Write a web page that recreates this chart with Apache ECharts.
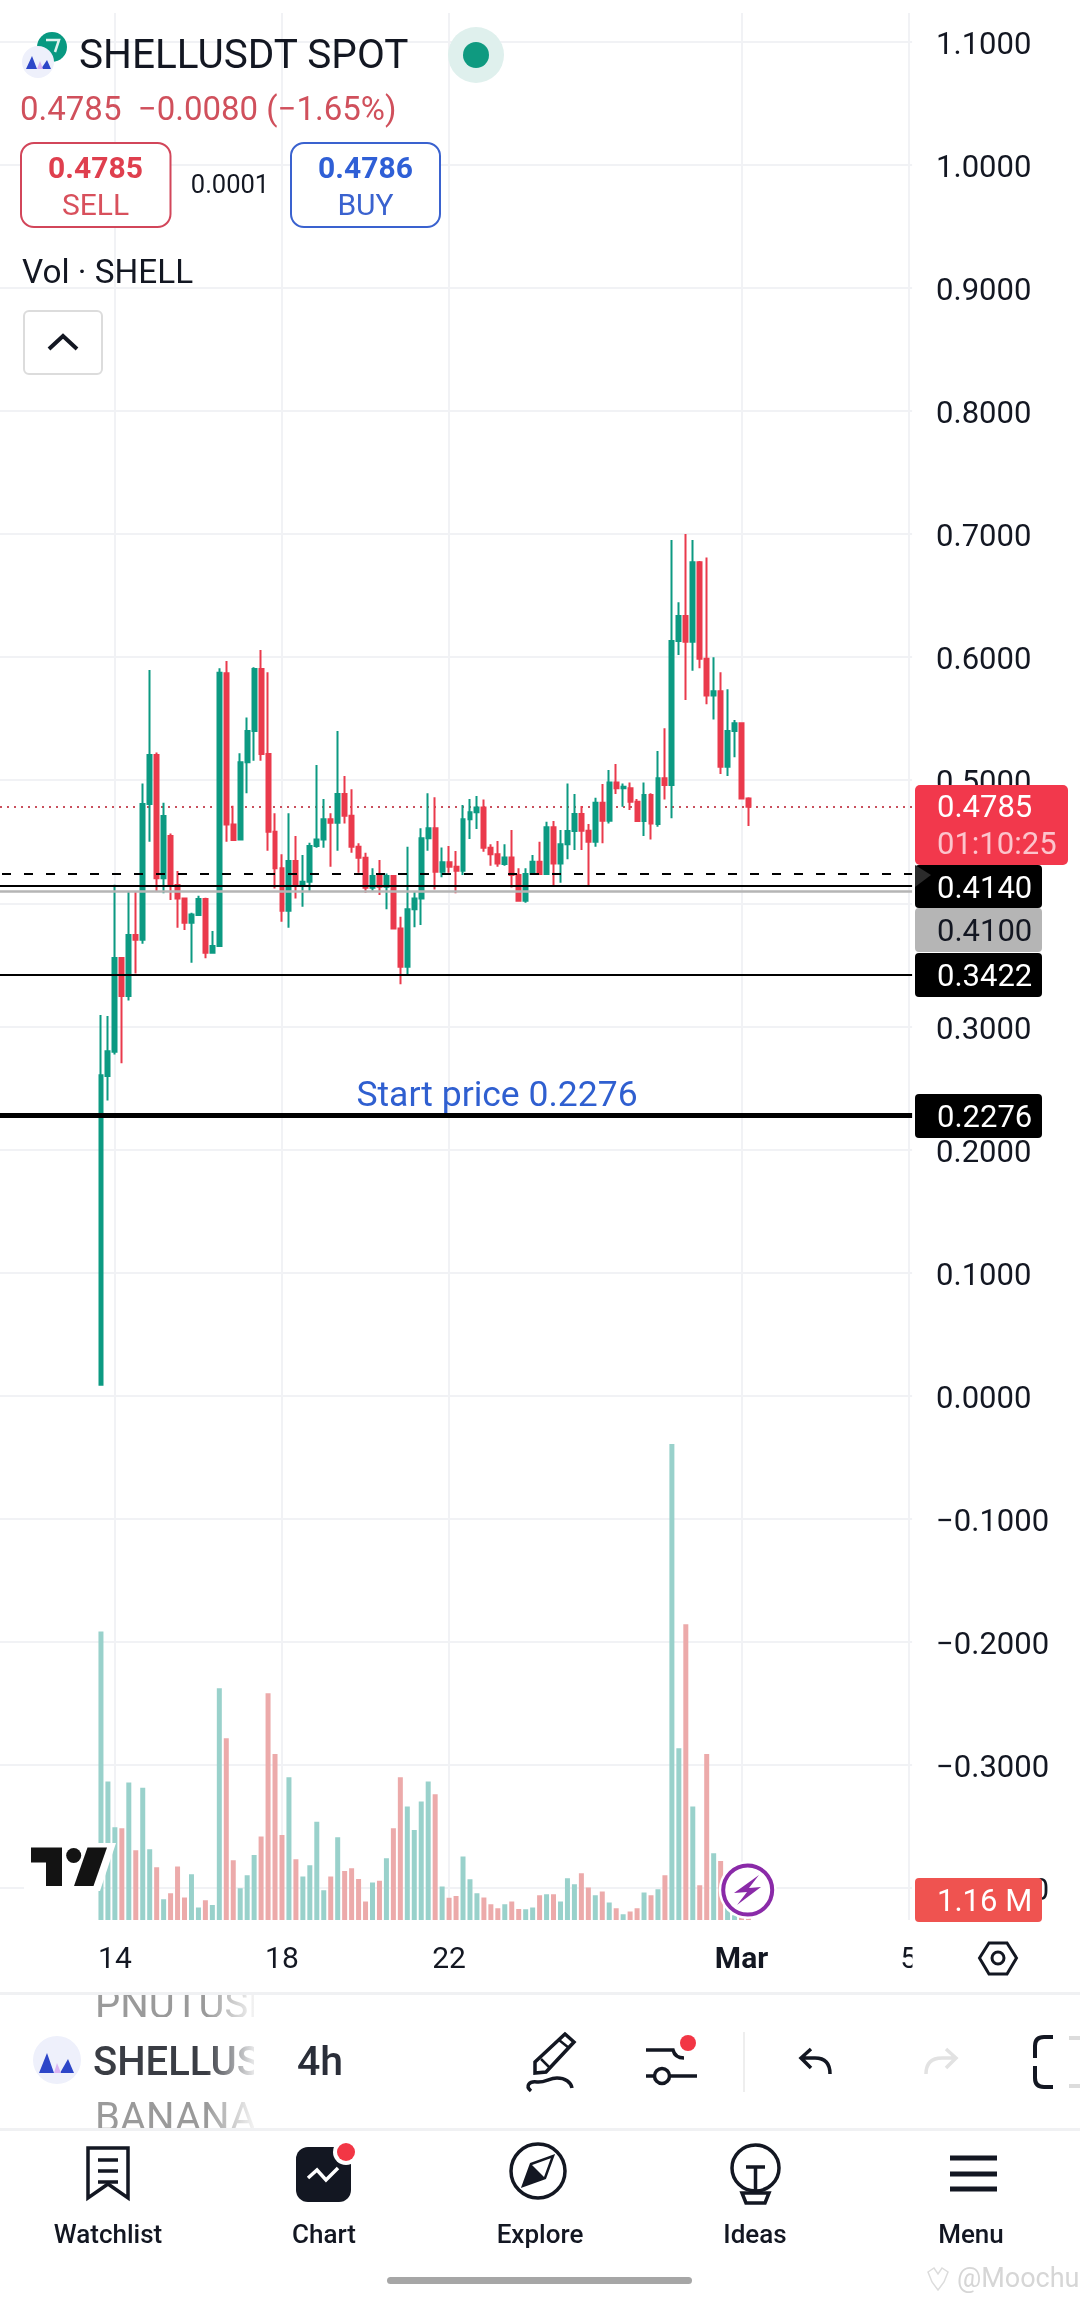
<!DOCTYPE html>
<html><head><meta charset="utf-8">
<script src="https://cdn.jsdelivr.net/npm/echarts@6/dist/echarts.min.js"></script>
<style>
html,body{margin:0;padding:0;background:#fff;width:1080px;height:2301px;overflow:hidden}
#chart{position:absolute;left:0;top:0;width:1080px;height:2301px}
#ui{position:absolute;left:0;top:0;width:1080px;height:2301px;pointer-events:none;font-family:Roboto,sans-serif}
</style></head><body>
<div id="chart"></div>
<svg id="ui" width="1080" height="2301" viewBox="0 0 1080 2301" xmlns="http://www.w3.org/2000/svg" dominant-baseline="central">
<defs>
<linearGradient id="fadeDark" x1="93" x2="255" gradientUnits="userSpaceOnUse"><stop offset="0.7" stop-color="#3a3d44"/><stop offset="1" stop-color="#3a3d44" stop-opacity="0.1"/></linearGradient>
<linearGradient id="fadeGrey" x1="93" x2="255" gradientUnits="userSpaceOnUse"><stop offset="0.7" stop-color="#9a9a9a"/><stop offset="1" stop-color="#9a9a9a" stop-opacity="0.1"/></linearGradient>
<clipPath id="c1"><rect x="0" y="1995" width="254" height="22"/></clipPath>
<clipPath id="c2"><rect x="0" y="2030" width="254" height="60"/></clipPath>
<clipPath id="c3"><rect x="0" y="2098" width="254" height="30"/></clipPath>
</defs>

<!-- header -->
<circle cx="52" cy="47" r="15" fill="#089981"/><path d="M46,40h13l-4,12" fill="none" stroke="#dff3ef" stroke-width="2.5"/>
<circle cx="38" cy="62" r="16" fill="#eef0fb"/><path d="M26,69l6,-13l5,13zM41,69l6,-9l4,9z" fill="#2d46c8"/><path d="M37,69l3,-8l3,8z" fill="#d9b4f2"/>
<text x="79" y="54" font-size="40.500" fill="#131722">SHELLUSDT SPOT</text>
<circle cx="476" cy="55" r="28" fill="#dff0ed"/><circle cx="476" cy="55" r="13" fill="#0f9a80"/>
<text x="20" y="108" font-size="33" fill="#d0505c" xml:space="preserve">0.4785  −0.0080 (−1.65%)</text>
<rect x="21" y="143" width="149.500" height="84" rx="13" fill="#fff" stroke="#d2465a" stroke-width="2"/>
<text x="95.500" y="167" text-anchor="middle" font-size="30" font-weight="700" fill="#df3f4e">0.4785</text>
<text x="95.500" y="204" text-anchor="middle" font-size="30" fill="#d8505c">SELL</text>
<text x="230" y="184" text-anchor="middle" font-size="25.500" fill="#131722">0.0001</text>
<rect x="291" y="143" width="149" height="84" rx="13" fill="#fff" stroke="#3a62cf" stroke-width="2"/>
<text x="365.500" y="167" text-anchor="middle" font-size="30" font-weight="700" fill="#2f5fd6">0.4786</text>
<text x="365.500" y="204" text-anchor="middle" font-size="30" fill="#3a62cf">BUY</text>
<text x="22" y="271" font-size="33.300" fill="#131722">Vol · SHELL</text>
<rect x="24" y="311" width="78" height="63" rx="5" fill="#fff" stroke="#dcdcdc" stroke-width="2"/>
<polyline points="49,349 63,336 77,349" fill="none" stroke="#131722" stroke-width="4"/>

<!-- chart labels -->
<text x="497" y="1094" text-anchor="middle" font-size="35.500" fill="#2f5fd0">Start price 0.2276</text>
<rect x="915" y="785" width="153" height="80" rx="5" fill="#f2384c"/>
<text x="937" y="806" font-size="31" fill="#fff">0.4785</text>
<text x="937" y="843" font-size="31" fill="#fcc4cc">01:10:25</text>
<rect x="915" y="865" width="127" height="43" rx="4" fill="#000"/>
<polygon points="915,865 931,875 915,887" fill="#2b2b2b"/>
<text x="937" y="887" font-size="31" fill="#fff">0.4140</text>
<rect x="915" y="908" width="127" height="44" rx="4" fill="#b5b5b5"/>
<text x="937" y="930" font-size="31" fill="#131722">0.4100</text>
<rect x="915" y="953" width="127" height="44" rx="4" fill="#000"/>
<text x="937" y="975" font-size="31" fill="#fff">0.3422</text>
<rect x="915" y="1094" width="127" height="44" rx="4" fill="#000"/>
<text x="937" y="1116" font-size="31" fill="#fff">0.2276</text>
<rect x="915" y="1878" width="127" height="44" rx="4" fill="#ef5350"/>
<text x="937" y="1900" font-size="31" fill="#fff">1.16 M</text>
<rect x="912.500" y="1935" width="14" height="45" fill="#fff"/>
<polygon points="979.500,1958 989,1943 1007,1943 1016.500,1958 1007,1974 989,1974" fill="none" stroke="#131722" stroke-width="3"/>
<circle cx="998" cy="1958" r="6" fill="none" stroke="#131722" stroke-width="3"/>

<!-- logo -->
<polygon points="24,1843 116,1843 100,1891 24,1891" fill="#fff"/>
<path d="M31,1847.500H62V1886H46V1862.500H31Z" fill="#131313"/><circle cx="73.700" cy="1855.500" r="7.500" fill="#131313"/><polygon points="87.500,1847.500 107,1847.500 93.500,1886 74,1886" fill="#131313"/>
<circle cx="747.700" cy="1890" r="29" fill="#fff"/><circle cx="747.700" cy="1890" r="24.500" fill="#fff" stroke="#8a2aa8" stroke-width="4"/>
<polygon points="759,1875 734,1893 747,1892 737,1905 761,1887 749,1888" fill="#8a2aa8"/>

<!-- toolbar -->
<rect x="0" y="1992" width="1080" height="3" fill="#f0f1f3"/>
<text x="95" y="2004" font-size="40" fill="url(#fadeGrey)" clip-path="url(#c1)">PNUTUSDT</text>
<circle cx="57" cy="2060" r="24" fill="#eef0fb"/><path d="M39,2073l8,-20l7,20zM60,2073l8,-14l6,14z" fill="#2d46c8"/><path d="M54,2073l3,-10l4,10z" fill="#d9b4f2"/>
<text x="93" y="2061" font-size="40" font-weight="500" fill="url(#fadeDark)" clip-path="url(#c2)">SHELLUSDT</text>
<text x="297" y="2061" font-size="41" font-weight="500" fill="#2a2e39">4h</text>
<text x="95" y="2117" font-size="40" fill="url(#fadeGrey)" clip-path="url(#c3)">BANANAS31</text>
<rect x="0" y="2128" width="1080" height="3" fill="#f0f1f3"/>
<g fill="none" stroke="#131722" stroke-width="3.500">
<polygon points="535,2073 535,2062 565,2034 574,2042 546,2072"/><path d="M541,2059l9,9M559,2040l10,8" stroke-width="2.500"/>
<path d="M531,2091c-6,-5 -2,-10 6,-9c8,1 12,-4 20,-4c8,0 14,4 15,10"/>
<path d="M646,2050H673q2,8 11,8"/><path d="M646,2076H655M669,2076H697"/><circle cx="662" cy="2076" r="7.500"/>
<path d="M801,2058H815Q830,2058 830,2074M811,2049L801,2058L811,2068"/>
<path d="M956,2058H942Q926,2058 926,2074M946,2049L956,2058L946,2068" stroke="#e2e2e2"/>
<path d="M1053,2037h-9q-9,0 -9,9v12M1035,2066v12q0,9 9,9h9" stroke-width="4"/>
<path d="M1069,2038h11M1069,2086h11" stroke="#dcdcdc" stroke-width="4"/>
</g>
<circle cx="688" cy="2043" r="8" fill="#f23645"/>
<rect x="743" y="2032" width="2" height="60" fill="#eeeeee"/>

<!-- bottom nav -->
<g fill="none" stroke="#131722" stroke-width="3.500">
<polygon points="88,2148 128,2148 128,2198 108,2184 88,2198"/><path d="M98,2160h20M98,2171h20M98,2182h20"/>
<circle cx="538" cy="2171" r="27"/><polygon points="553,2156 545,2178 523,2186 531,2164" stroke-width="2.500"/>
<ellipse cx="755.500" cy="2168" rx="23.500" ry="23"/><path d="M746,2167h19M755.500,2167v24"/><path d="M742,2193h27l-4,10h-19z"/>
</g>
<polygon points="523,2186 531,2164 545,2178" fill="#131722"/>
<rect x="296" y="2147" width="55" height="55" rx="12" fill="#131722"/>
<circle cx="346" cy="2152" r="13" fill="#fff"/><circle cx="346" cy="2152" r="9" fill="#f23645"/>
<polyline points="308,2178 317,2170 326,2180 338,2168" fill="none" stroke="#fff" stroke-width="3.500"/>
<rect x="950" y="2155.500" width="47" height="5" fill="#131722"/><rect x="950" y="2171.500" width="47" height="5" fill="#131722"/><rect x="950" y="2186.500" width="47" height="5" fill="#131722"/>
<g font-size="26" font-weight="500" fill="#131722" text-anchor="middle">
<text x="108" y="2234">Watchlist</text><text x="324" y="2234">Chart</text><text x="540" y="2234">Explore</text><text x="755" y="2234">Ideas</text><text x="971" y="2234">Menu</text>
</g>
<rect x="387" y="2277" width="305" height="7" rx="3.500" fill="#a6a6a6"/>
<path d="M928,2272l6,-4l4,6l4,-6l6,4l-4,10l-6,8l-6,-8z" fill="none" stroke="#dcdcdc" stroke-width="1.500"/>
<text x="957" y="2278" font-size="27" fill="#d6d6d6">@Moochu</text>
</svg>
<script>
// Price candles (index 0 = first 4h candle, 13 Feb late session)
const opens = [.0089,.2598,.2794,.3555,.3247,.3743,.3703,.4806,.5205,.4203,.4547,.4148,.4040,.3842,.3905,.4035,.3599,.3653,.5868,.4641,.4519,.5145,.5399,.5903,.5213,.4582,.4284,.3940,.4343,.4148,.4176,.4465,.4519,.4682,.4655,.4888,.4712,.4460,.4371,.4127,.4222,.4135,.4222,.3796,.3485,.3951,.4040,.4528,.4609,.4257,.4333,.4297,.4265,.4682,.4739,.4779,.4452,.4398,.4319,.4373,.4230,.4021,.4238,.4338,.4238,.4617,.4324,.4479,.4587,.4725,.4590,.4500,.4817,.4671,.4982,.4934,.4934,.4825,.4668,.4880,.4644,.5015,.4961,.6131,.6334,.6125,.6770,.5987,.5689,.5722,.5110,.5399,.5462,.4852];
const closes = [.2604,.2799,.3555,.3247,.3743,.3703,.4806,.5205,.4203,.4709,.4148,.4040,.3842,.3910,.4035,.3599,.3653,.5873,.4641,.4514,.5145,.5399,.5903,.5213,.4582,.4284,.3940,.4343,.4148,.4176,.4465,.4519,.4682,.4655,.4888,.4712,.4460,.4371,.4127,.4222,.4135,.4222,.3796,.3485,.3951,.4040,.4528,.4609,.4257,.4333,.4297,.4265,.4682,.4739,.4779,.4452,.4398,.4324,.4373,.4230,.4021,.4238,.4338,.4238,.4617,.4324,.4479,.4587,.4725,.4590,.4500,.4817,.4671,.4982,.4934,.4947,.4825,.4668,.4880,.4649,.5015,.4961,.6131,.6334,.6125,.6770,.5987,.5689,.5722,.5110,.5399,.5462,.4852,.4785];
const lows = [.0089,.2399,.2771,.2701,.3211,.3429,.3672,.4500,.4094,.4081,.4027,.3802,.3783,.3518,.3905,.3553,.3599,.3653,.4500,.4509,.4514,.4893,.5158,.5158,.4427,.4121,.3851,.3802,.4040,.3972,.4094,.4452,.4452,.4297,.4427,.4649,.4411,.4249,.4086,.4102,.4067,.3951,.3796,.3342,.3425,.3805,.3824,.4427,.4113,.4211,.4249,.4081,.4230,.4522,.4603,.4419,.4305,.4297,.4305,.4129,.4021,.4005,.4230,.4230,.4238,.4135,.4167,.4357,.4433,.4433,.4140,.4460,.4487,.4649,.4888,.4785,.4758,.4663,.4547,.4519,.4622,.4844,.4690,.6017,.5651,.5890,.5909,.5616,.5494,.5050,.5034,.5186,.4844,.4628];
const highs = [.3093,.3085,.4150,.3555,.4100,.4100,.4974,.5895,.5226,.4817,.4568,.4262,.4045,.3924,.4062,.4046,.3775,.5909,.5968,.4793,.5218,.5510,.5917,.6057,.5876,.4731,.4398,.4731,.4547,.4392,.4492,.5123,.4847,.4731,.5399,.5034,.4926,.4487,.4411,.4284,.4352,.4243,.4230,.3891,.4460,.4094,.4609,.4893,.4861,.4454,.4465,.4425,.4798,.4847,.4871,.4844,.4479,.4506,.4479,.4595,.4284,.4284,.4392,.4500,.4663,.4668,.4595,.4974,.4888,.4790,.4644,.4858,.4969,.5083,.5131,.4974,.4982,.4847,.4982,.4893,.5237,.5421,.6951,.6445,.7000,.6951,.6780,.6810,.5998,.5876,.5738,.5489,.5467,.4861];
// Volume in millions of SHELL (estimated)
const volumes = [115.4,55.4,37.1,36.7,55,27.9,52.9,28.3,21.1,8.3,10.7,21.4,9,18.3,5,7.9,6,92.7,72.7,23.9,12.7,17.9,26,33.4,90.7,66.4,34,57.1,24.3,17.4,21.9,39.3,11.9,17.4,33.1,19.6,20.7,16.4,7.4,15,15.7,24.7,36.7,57.1,45.4,36,47.4,55.4,50.3,13.4,8.9,9.6,25.4,16.3,10.7,9,6.3,4.7,6.3,7.4,4.4,4.3,5,9.9,10.3,10.3,7.4,16.7,14.3,18.7,13,9.9,11.4,7,4.7,2.3,3.4,4.7,11,9.9,12.3,17.9,190.4,68.7,118.3,45.4,13.9,66.4,26.7,23.6,5,1.9,1.1,1.16];
// Horizontal levels
const solidLevels = [0.4140, 0.3422];
const greyLevel = 0.4100;
const startPrice = 0.2276;
const dashedLevel = 0.4238;
const lastPrice = 0.4785;
// Time axis
const tickLabels = {2:'14', 26:'18', 50:'22', 92:'Mar', 116:'5'};
const leadingSlots = 14, trailingSlots = 23;

const GREEN='#0c9a82', RED='#ea3a4c', VG='#99d1cb', VR='#ecaaaa', GRID='#f1f2f5';
const total = leadingSlots + opens.length + trailingSlots;
const categories = [];
for (let k=0;k<total;k++){ categories.push(tickLabels[k-leadingSlots]||''); }
const candleData = [], volData = [];
for (let k=0;k<leadingSlots;k++){ candleData.push(['-','-','-','-']); volData.push('-'); }
opens.forEach((o,i)=>{
  candleData.push([o,closes[i],lows[i],highs[i]]);
  volData.push({value:volumes[i],itemStyle:{color:closes[i]>=o?VG:VR}});
});
const labelled = (idx,val)=>val!=='';
const line = (v,color,width,type,extra)=>({yAxis:v,lineStyle:Object.assign({color:color,width:width,type:type},extra||{})});

const chart = echarts.init(document.getElementById('chart'),null,{renderer:'canvas'});
chart.setOption({
  animation:false, backgroundColor:'#fff',
  grid:[
    {left:-3.3,width:915.4,top:41.6,height:1846.5,containLabel:false},
    {left:-3.3,width:915.4,top:13,height:1907,containLabel:false}
  ],
  xAxis:[
    {type:'category',gridIndex:0,data:categories,show:false},
    {type:'category',gridIndex:1,data:categories,
      axisLine:{show:false},axisTick:{show:false},
      axisLabel:{interval:labelled,margin:25,fontFamily:'Roboto',fontSize:30,color:'#131722',lineHeight:30,
        formatter:v=>v==='Mar'?'{b|Mar}':v,
        rich:{b:{fontFamily:'Roboto',fontSize:30,fontWeight:'bold',color:'#131722'}}},
      splitLine:{show:true,alignWithLabel:true,interval:labelled,lineStyle:{color:GRID,width:2}}}
  ],
  yAxis:[
    {type:'value',gridIndex:0,position:'right',min:-0.4,max:1.1,interval:0.1,
      axisLine:{show:false},axisTick:{show:false},
      axisLabel:{margin:24,verticalAlign:'top',lineHeight:9,fontFamily:'Roboto',fontSize:31,color:'#131722',align:'left',
        formatter:v=>(v<0?'\u2212':'')+Math.abs(v).toFixed(4)},
      splitLine:{show:true,lineStyle:{color:GRID,width:2}}},
    {type:'value',gridIndex:1,min:0,max:762.8,show:false}
  ],
  series:[
    {type:'bar',name:'Vol',xAxisIndex:1,yAxisIndex:1,data:volData,barWidth:5,z:1,silent:true},
    {type:'candlestick',name:'SHELLUSDT',xAxisIndex:0,yAxisIndex:0,data:candleData,barWidth:4.4,z:3,silent:true,large:false,progressive:0,
      itemStyle:{color:GREEN,color0:RED,borderColor:GREEN,borderColor0:RED,borderWidth:2},
      markLine:{silent:true,symbol:'none',animation:false,z:6,precision:6,label:{show:false},emphasis:{disabled:true},
        data:[
          line(greyLevel,'#b5b5b5',2.5,'solid'),
          line(solidLevels[0],'#000',2,'solid'),
          line(solidLevels[1],'#000',2,'solid'),
          line(startPrice,'#000',5,'solid'),
          line(dashedLevel,'#000',2,[9,13],{dashOffset:20})
        ]}},
    {type:'line',name:'last',xAxisIndex:0,yAxisIndex:0,data:[],z:1,silent:true,
      markLine:{silent:true,symbol:'none',animation:false,z:1,precision:6,label:{show:false},emphasis:{disabled:true},
        data:[line(lastPrice,'#c9505d',2,[2,5])]}}
  ]
});
</script>
</body></html>
